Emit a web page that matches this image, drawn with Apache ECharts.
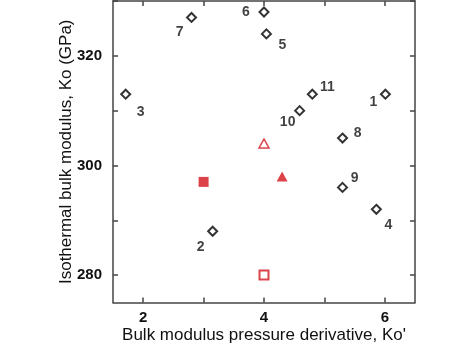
<!DOCTYPE html>
<html><head><meta charset="utf-8">
<script src="https://cdn.jsdelivr.net/npm/echarts@6/dist/echarts.min.js"></script>
<style>html,body{margin:0;padding:0;background:#fff}#c{width:474px;height:355px}</style>
</head><body><div id="c"></div>
<script>
// Numbered literature values (diamonds)
const pointIds = ['1','2','3','4','5','6','7','8','9','10','11'];
const pointK0p = [6.01, 3.15, 1.71, 5.86, 4.04, 4.0, 2.80, 5.30, 5.30, 4.59, 4.80];
const pointK0  = [313, 288, 313, 292, 324, 328, 327, 305, 296, 310, 313];
// Red symbols
const filledSquare = [[3.0, 297]];
const openSquare = [[4.0, 280]];
const filledTriangle = [[4.3, 298]];
const openTriangle = [[4.0, 304]];
// Axis ticks
const xTicks = [2, 3, 4, 5, 6];
const xTickLabels = [2, 4, 6];
const yTicks = [280, 290, 300, 310, 320, 330];
const yTickLabels = [280, 300, 320];
// Label placement (layout, px offsets from point)
const labelOffsets = [[-12,8],[-12,16],[15,18],[12,16],[16,11],[-18,0],[-12,15],[15,-5],[12,-9],[-12,12],[15,-7]];

const RED = '#d3141c';
const AX = '#444';
const TXT = '#111';
const FONT = '"Liberation Sans", Arial, sans-serif';

const chart = echarts.init(document.getElementById('c'), null, {renderer: 'canvas'});
const axisCommon = {
  type: 'value', scale: false,
  axisLine: {show: true, onZero: false, lineStyle: {color: AX, width: 1.5}},
  splitLine: {show: false}
};
chart.setOption({
  animation: false,
  backgroundColor: '#fff',
  grid: {left: 113, top: 1, width: 302, height: 301.5, containLabel: false},
  xAxis: [
    Object.assign({}, axisCommon, {
      min: 1.5, max: 6.5, position: 'bottom',
      axisTick: {show: true, inside: true, length: 5, customValues: xTicks, lineStyle: {color: AX, width: 1.5}},
      axisLabel: {show: true, customValues: xTickLabels, color: TXT, fontSize: 15, fontWeight: 'bold', fontFamily: FONT, margin: 8},
      name: "Bulk modulus pressure derivative, Ko'", nameLocation: 'middle', nameGap: 24, nameMoveOverlap: false,
      nameTextStyle: {color: TXT, fontSize: 17, fontFamily: FONT}
    }),
    Object.assign({}, axisCommon, {
      min: 1.5, max: 6.5, position: 'top',
      axisTick: {show: true, inside: true, length: 5, customValues: xTicks, lineStyle: {color: AX, width: 1.5}},
      axisLabel: {show: false}
    })
  ],
  yAxis: [
    Object.assign({}, axisCommon, {
      min: 275, max: 330, position: 'left',
      axisTick: {show: true, inside: true, length: 5, customValues: yTicks, lineStyle: {color: AX, width: 1.5}},
      axisLabel: {show: true, customValues: yTickLabels, color: TXT, fontSize: 15, fontWeight: 'bold', fontFamily: FONT, margin: 11},
      name: 'Isothermal bulk modulus, Ko (GPa)', nameLocation: 'middle', nameGap: 38, nameRotate: 90, nameMoveOverlap: false,
      nameTextStyle: {color: TXT, fontSize: 17, fontFamily: FONT}
    }),
    Object.assign({}, axisCommon, {
      min: 275, max: 330, position: 'right',
      axisTick: {show: true, inside: true, length: 5, customValues: yTicks, lineStyle: {color: AX, width: 1.5}},
      axisLabel: {show: false}
    })
  ],
  series: [
    {
      type: 'scatter', symbol: 'diamond', symbolSize: 9,
      itemStyle: {color: '#fff', borderColor: '#000', borderWidth: 2},
      data: pointIds.map((id, i) => ({
        value: [pointK0p[i], pointK0[i]], name: id,
        label: {show: true, formatter: id, position: 'inside', offset: labelOffsets[i],
          color: TXT, fontSize: 14, fontWeight: 'bold', fontFamily: FONT, align: 'center', verticalAlign: 'middle'}
      }))
    },
    {type: 'scatter', symbol: 'rect', symbolSize: 10, itemStyle: {color: RED}, data: filledSquare},
    {type: 'scatter', symbol: 'rect', symbolSize: 9, itemStyle: {color: '#fff', borderColor: RED, borderWidth: 2}, data: openSquare},
    {type: 'scatter', symbol: 'triangle', symbolSize: [11, 10], itemStyle: {color: RED}, data: filledTriangle},
    {type: 'scatter', symbol: 'triangle', symbolSize: [10, 9], itemStyle: {color: '#fff', borderColor: RED, borderWidth: 1.5}, data: openTriangle}
  ]
});
</script></body></html>
